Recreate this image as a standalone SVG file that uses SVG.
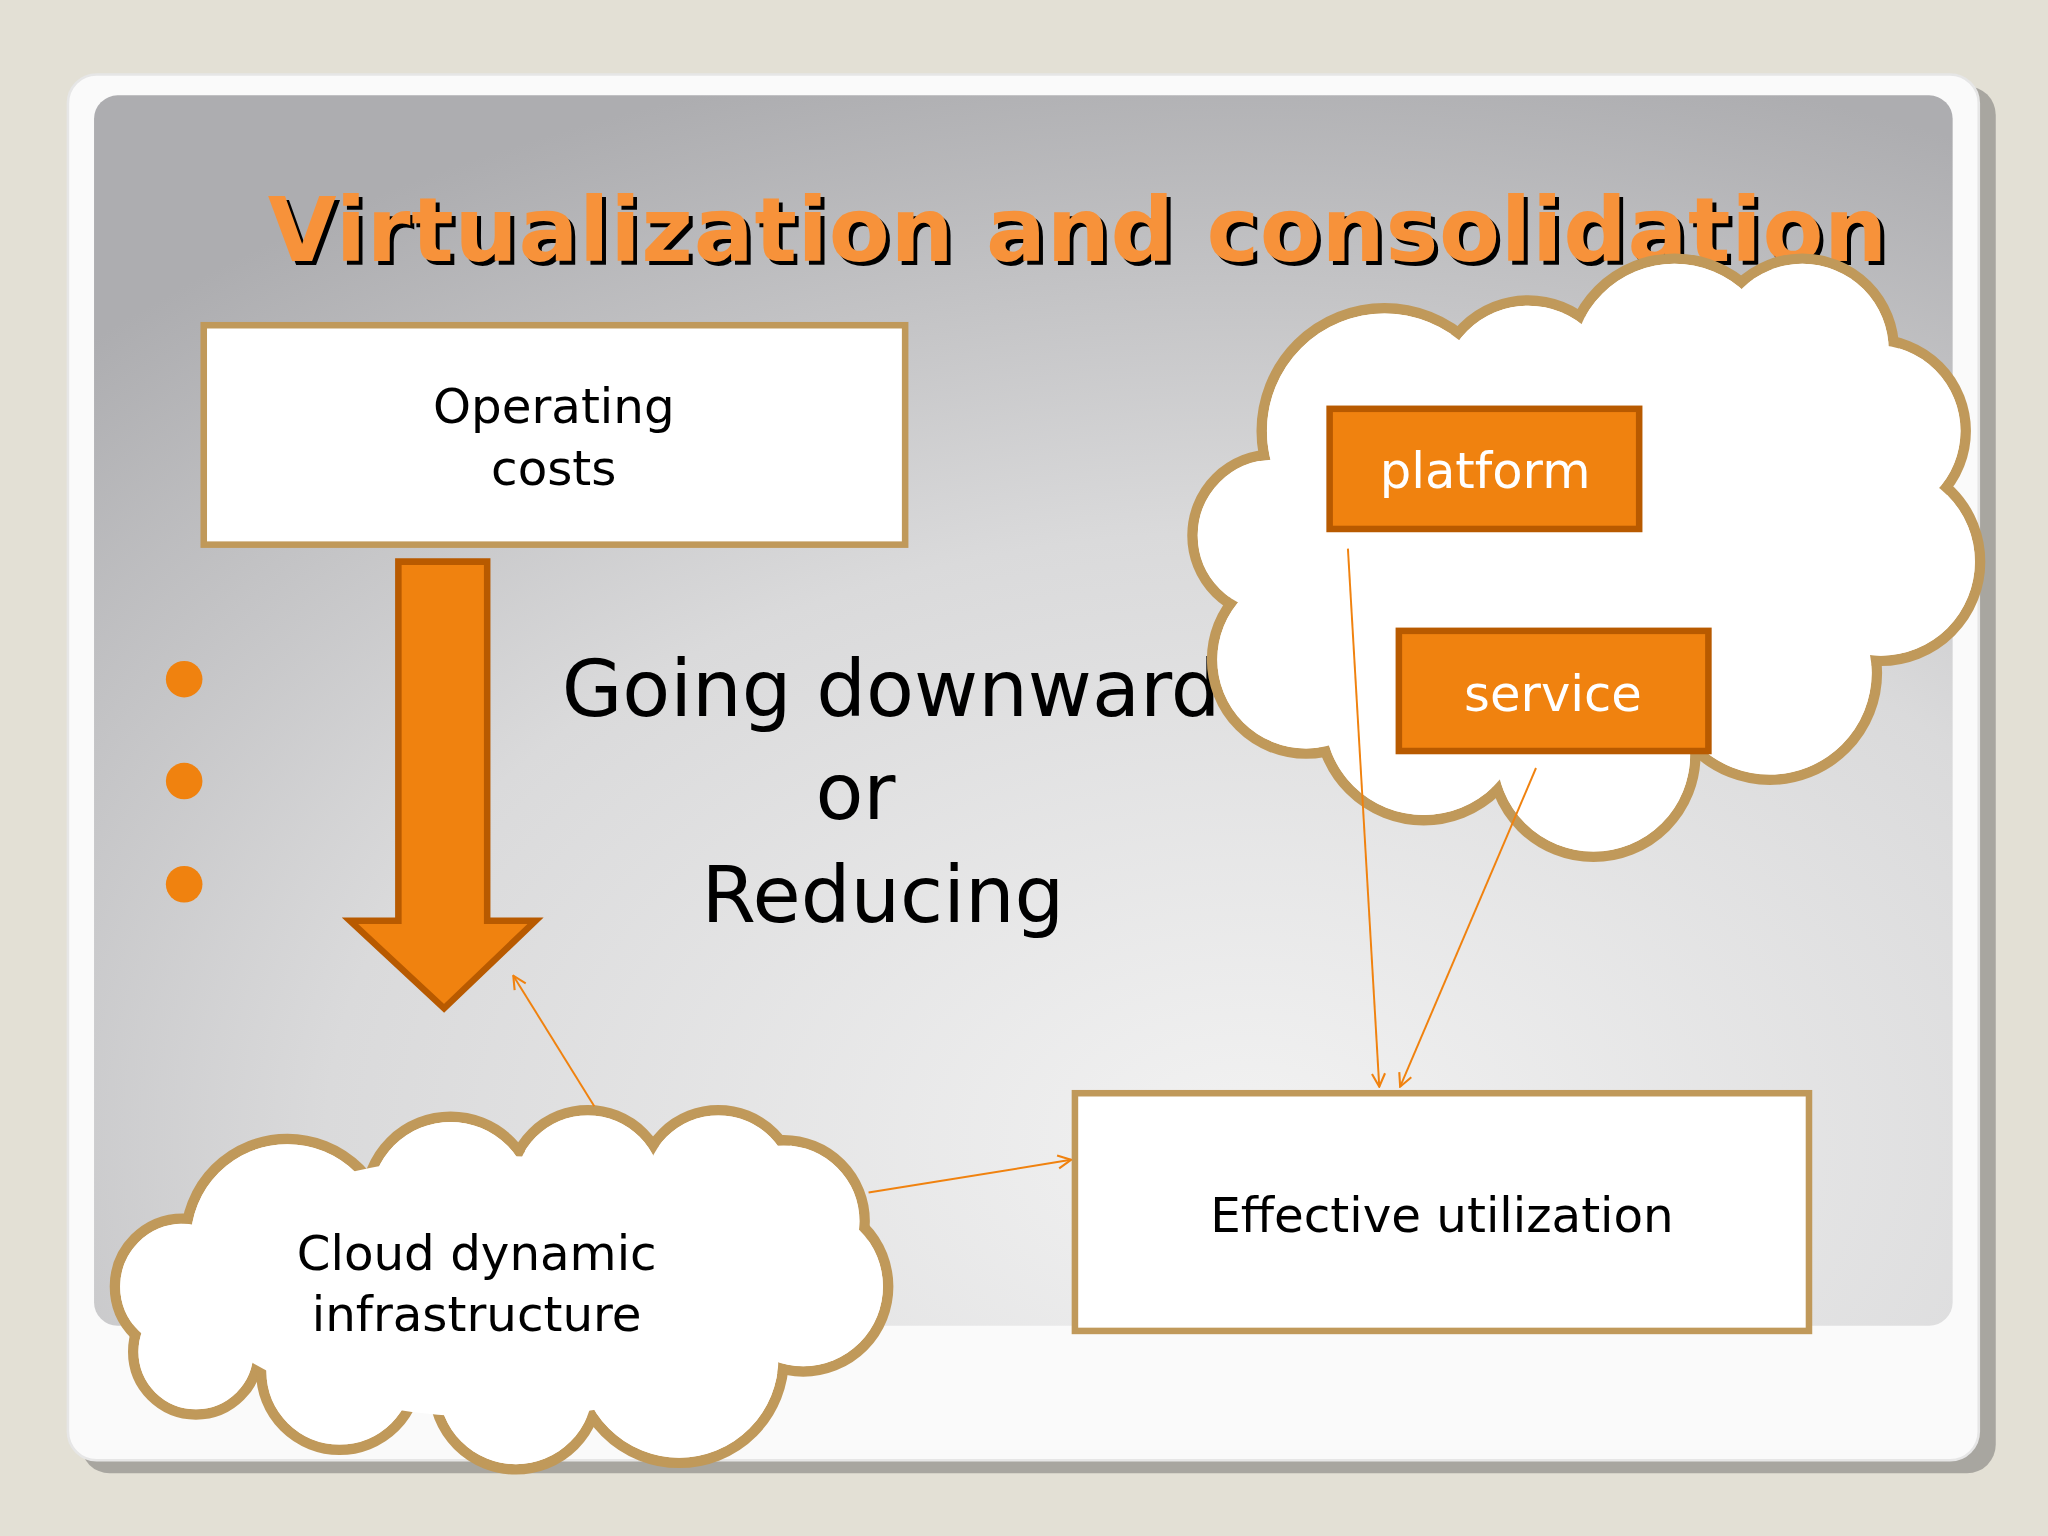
<svg xmlns="http://www.w3.org/2000/svg" width="2048" height="1536" viewBox="0 0 2048 1536">
<defs>
<radialGradient id="bg" cx="0.62" cy="0.85" r="0.9">
<stop offset="0" stop-color="#f2f2f2"/><stop offset="0.55" stop-color="#dadadb"/><stop offset="1" stop-color="#adadb0"/>
</radialGradient>
<marker id="ah" viewBox="0 0 12 12" refX="11" refY="6" markerWidth="12" markerHeight="12" markerUnits="userSpaceOnUse" orient="auto"><path d="M1,1 L11,6 L1,11" fill="none" stroke="#f0820f" stroke-width="1.6"/></marker>
<style>
.box{fill:#fff;stroke:#c0995a;stroke-width:5}
.obox{fill:#f0820f;stroke:#b85a00;stroke-width:5}
.t{font-family:"DejaVu Sans","Liberation Sans",sans-serif;fill:#000;text-anchor:middle}
.w{font-family:"DejaVu Sans","Liberation Sans",sans-serif;fill:#fff;text-anchor:middle;font-size:38px}
.cs circle,.cs ellipse{fill:#fff;stroke:#c0995a;stroke-width:8}
.cf circle,.cf ellipse{fill:#fff}
.con{fill:none;stroke:#f0820f;stroke-width:1.5;marker-end:url(#ah)}
</style>
</defs>
<rect width="2048" height="1536" fill="#e3e0d5"/>
<g transform="scale(1.30612)">
<rect x="62" y="66" width="1466" height="1062" rx="22" fill="#a8a6a0"/>
<rect x="52" y="57" width="1463" height="1061" rx="22" fill="#fafafa" stroke="#e6e6e6" stroke-width="2"/>
<rect x="72" y="73" width="1423" height="942" rx="18" fill="url(#bg)"/>
<g id="title" font-family="DejaVu Sans,sans-serif" font-weight="bold" font-size="68">
<text x="208" y="203" fill="#000" textLength="1240">Virtualization and consolidation</text>
<text x="205" y="200" fill="#f7923a" textLength="1240">Virtualization and consolidation</text>
</g>
<g id="operating"><rect class="box" x="156" y="249" width="537" height="168"/>
<text class="t" x="424" y="324" font-size="37">Operating</text><text class="t" x="424" y="371" font-size="37">costs</text></g>
<g id="bigarrow"><path d="M305,430 H373 V705 H410 L340,772 L268,705 H305 Z" fill="#f0820f" stroke="#b85a00" stroke-width="5"/></g>
<g id="bullets" fill="#f0820f"><circle cx="141" cy="520" r="14"/><circle cx="141" cy="598" r="14"/><circle cx="141" cy="677" r="14"/></g>
<g id="goingtext" font-size="60">
<text class="t" x="430" y="548" style="text-anchor:start">Going downward</text>
<text class="t" x="655" y="627">or</text>
<text class="t" x="676" y="706">Reducing</text></g>
<g id="rightcloud">
<g class="cs"><circle cx="975" cy="410" r="62"/><circle cx="1000" cy="505" r="72"/><circle cx="1090" cy="548" r="80"/><circle cx="1220" cy="578" r="78"/><circle cx="1355" cy="515" r="82"/><circle cx="1440" cy="430" r="76"/><circle cx="1435" cy="330" r="70"/><circle cx="1380" cy="268" r="70"/><circle cx="1282" cy="280" r="82"/><circle cx="1060" cy="330" r="94"/><circle cx="1170" cy="300" r="70"/></g>
<g class="cf"><circle cx="975" cy="410" r="58"/><circle cx="1000" cy="505" r="68"/><circle cx="1090" cy="548" r="76"/><circle cx="1220" cy="578" r="74"/><circle cx="1355" cy="515" r="78"/><circle cx="1440" cy="430" r="72"/><circle cx="1435" cy="330" r="66"/><circle cx="1380" cy="268" r="66"/><circle cx="1282" cy="280" r="78"/><circle cx="1060" cy="330" r="90"/><circle cx="1170" cy="300" r="66"/><ellipse cx="1200" cy="420" rx="200" ry="150"/><circle cx="1360" cy="370" r="75"/></g>
</g>
<g id="platform"><rect class="obox" x="1018" y="313" width="237" height="92"/><text class="w" x="1137" y="374">platform</text></g>
<g id="service"><rect class="obox" x="1071" y="483" width="237" height="92"/><text class="w" x="1189" y="544">service</text></g>
<g id="effective"><rect class="box" x="823" y="837" width="562" height="182"/><text class="t" x="1104" y="943" font-size="37">Effective utilization</text></g>
<g id="leftcloud">
<g class="cs"><circle cx="140" cy="985" r="52"/><circle cx="150" cy="1035" r="48"/><circle cx="260" cy="1050" r="60"/><circle cx="395" cy="1062" r="63"/><circle cx="520" cy="1040" r="80"/><circle cx="615" cy="985" r="65"/><circle cx="600" cy="935" r="62"/><circle cx="550" cy="910" r="60"/><circle cx="450" cy="910" r="60"/><circle cx="345" cy="920" r="65"/><circle cx="220" cy="950" r="78"/></g>
<g class="cf"><circle cx="140" cy="985" r="48"/><circle cx="150" cy="1035" r="44"/><circle cx="260" cy="1050" r="56"/><circle cx="395" cy="1062" r="59"/><circle cx="520" cy="1040" r="76"/><circle cx="615" cy="985" r="61"/><circle cx="600" cy="935" r="58"/><circle cx="550" cy="910" r="56"/><circle cx="450" cy="910" r="56"/><circle cx="345" cy="920" r="61"/><circle cx="220" cy="950" r="74"/><ellipse cx="380" cy="985" rx="230" ry="100"/></g>
<text class="t" x="365" y="972" font-size="37">Cloud dynamic</text><text class="t" x="365" y="1019" font-size="37">infrastructure</text>
</g>
<g id="connectors">
<path class="con" d="M455,847 L393,747"/>
<path class="con" d="M665,913 L820,888"/>
<path class="con" d="M1032,420 L1056,832"/>
<path class="con" d="M1176,588 L1072,832"/>
</g>
</g>
</svg>
